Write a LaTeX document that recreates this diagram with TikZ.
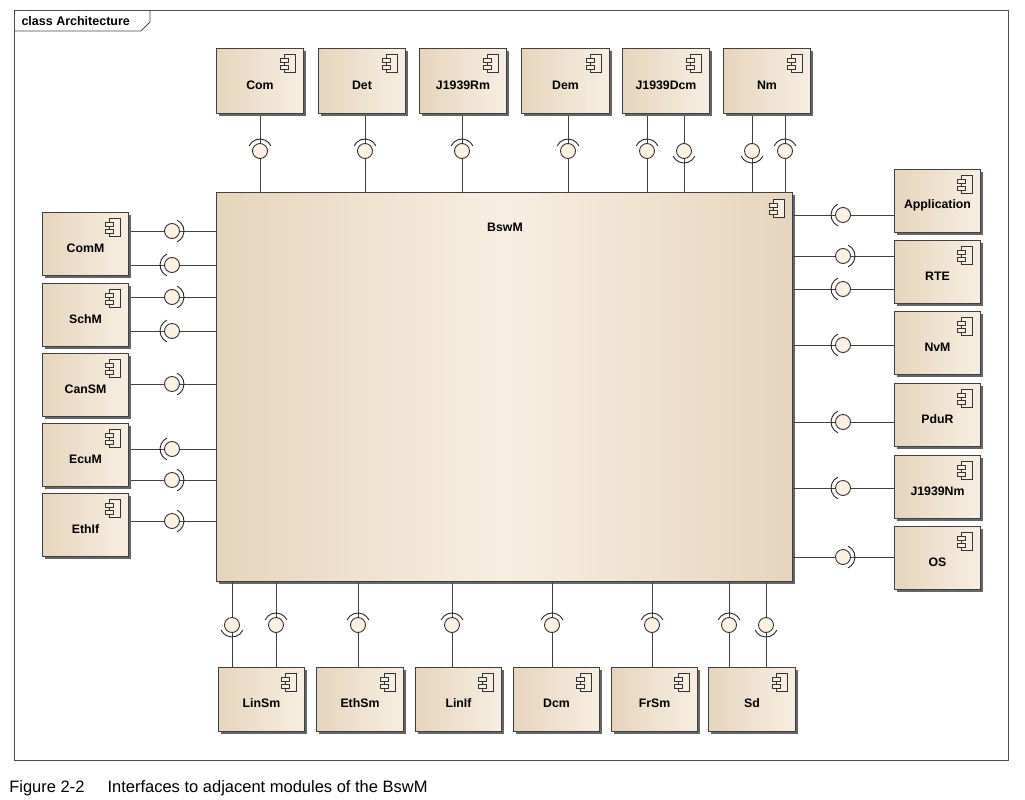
\documentclass[tikz,border=0pt]{standalone}
\usepackage{fontspec}
\setmainfont{Liberation Sans}
\usetikzlibrary{calc}
\definecolor{cdark}{HTML}{E6D5BD}
\definecolor{clight}{HTML}{F7EEE2}
\definecolor{ball}{HTML}{FBF1E2}
\definecolor{ln}{HTML}{404040}
\tikzset{
  comp/.style={draw=ln, line width=1pt, left color=cdark, right color=clight, anchor=north west, inner sep=0pt},
  shad/.style={fill=black!60},
  lbl/.style={font=\bfseries\fontsize{12.3}{14}\selectfont},
  conn/.style={draw=ln, line width=0.9pt},
  sock/.style={draw=black!85, line width=0.9pt},
  ballst/.style={draw=black!80, fill=ball, line width=0.9pt},
  icn/.style={black!80, line width=0.8pt, fill=clight},
}
\newcommand\icon[2]{%
  \draw[icn] (#1-5,#2-9) rectangle (#1+6,#2+9);
  \draw[icn] (#1-9,#2-5) rectangle (#1-1,#2-1);
  \draw[icn] (#1-9,#2+2) rectangle (#1-1,#2+6);}
\newcommand\comp[6]{% name x1 y1 x2 y2 label
  \fill[shad] (#2+3,#3+3) rectangle (#4+3,#5+3);
  \node[comp, minimum width=#4-#2, minimum height=#5-#3] (#1) at (#2,#3) {};
  \node[lbl] (#1-l) at ($(#1.center)+(0,4)$) {#6};
  \icon{#4-14}{#3+15}}
\newcommand\ifc[3]{% x y socket-angle
  \draw[sock] ($(#1,#2)+({#3-65}:12)$) arc[start angle={#3-65}, end angle={#3+65}, radius=12];
  \draw[ballst] (#1,#2) circle (7.5);}
\begin{document}
\begin{tikzpicture}[x=1pt,y=-1pt]
\useasboundingbox (0,0) rectangle (1025,800);
\fill[white] (0,0) rectangle (1025,800);
% frame
\draw[black!70, line width=0.8pt] (14,10) rectangle (1008,760);
\draw[black!70, line width=0.8pt] (14,31) -- (141,31) -- (150,22) -- (150,10);
\node[anchor=west, font=\bfseries\fontsize{12.5}{14}\selectfont] (title) at (18,21) {class Architecture};
% caption
\node[anchor=east, font=\fontsize{16.5}{18}\selectfont] (cap1) at (88,788) {Figure 2-2};
\node[anchor=west, font=\fontsize{16.5}{18}\selectfont] (cap2) at (104,788) {Interfaces to adjacent modules of the BswM};
% BswM
\fill[shad] (219,195) rectangle (795,584);
\node[draw=ln, line width=1pt, left color=cdark, right color=cdark, middle color=clight, anchor=north west, minimum width=576, minimum height=389, inner sep=0pt] (B) at (216,192) {};
\node[lbl] (Bl) at (505,227) {BswM};
\icon{778}{208}
% connectors (drawn first)
\foreach \x in {260,365,462,568,647,684,752,785}
  \draw[conn] (\x,113) -- (\x,192);
\foreach \x in {232,276,358,452,552,652,729,766}
  \draw[conn] (\x,581) -- (\x,667);
\foreach \y in {231,265,297,331,384,449,480,521}
  \draw[conn] (128,\y) -- (216,\y);
\foreach \y in {215,256,289,345,422,488,557}
  \draw[conn] (792,\y) -- (894,\y);
% top components
\comp{Com}{216}{48}{303}{113}{Com}
\comp{Det}{318}{48}{405}{113}{Det}
\comp{J1939Rm}{419}{48}{506}{113}{J1939Rm}
\comp{Dem}{521}{48}{609}{113}{Dem}
\comp{J1939Dcm}{622}{48}{709}{113}{J1939Dcm}
\comp{Nm}{723}{48}{810}{113}{Nm}
% bottom components
\comp{LinSm}{218}{667}{304}{731}{LinSm}
\comp{EthSm}{316}{667}{403}{731}{EthSm}
\comp{LinIf}{415}{667}{501}{731}{LinIf}
\comp{Dcm}{513}{667}{599}{731}{Dcm}
\comp{FrSm}{611}{667}{697}{731}{FrSm}
\comp{Sd}{708}{667}{795}{731}{Sd}
% left components
\comp{ComM}{42}{212}{128}{275}{ComM}
\comp{SchM}{42}{283}{128}{346}{SchM}
\comp{CanSM}{42}{353}{128}{416}{CanSM}
\comp{EcuM}{42}{423}{128}{486}{EcuM}
\comp{EthIf}{42}{493}{128}{556}{EthIf}
% right components
\comp{App}{894}{169}{980}{232}{Application}
\comp{RTE}{894}{240}{980}{303}{RTE}
\comp{NvM}{894}{311}{980}{374}{NvM}
\comp{PduR}{894}{383}{980}{446}{PduR}
\comp{J1939Nm}{894}{455}{980}{518}{J1939Nm}
\comp{OS}{894}{526}{980}{589}{OS}
% interfaces: screen up = 270, down = 90, left = 180, right = 0
\ifc{260}{151}{270}\ifc{365}{151}{270}\ifc{462}{151}{270}\ifc{568}{151}{270}
\ifc{647}{151}{270}\ifc{684}{151}{90}\ifc{752}{151}{90}\ifc{785}{151}{270}
\ifc{232}{625}{90}\ifc{276}{625}{270}\ifc{358}{625}{270}\ifc{452}{625}{270}
\ifc{552}{625}{270}\ifc{652}{625}{270}\ifc{729}{625}{270}\ifc{766}{625}{90}
\ifc{172}{231}{0}\ifc{172}{265}{180}\ifc{172}{297}{0}\ifc{172}{331}{180}
\ifc{172}{384}{0}\ifc{172}{449}{180}\ifc{172}{480}{0}\ifc{172}{521}{0}
\ifc{843}{215}{180}\ifc{843}{256}{0}\ifc{843}{289}{180}\ifc{843}{345}{180}
\ifc{843}{422}{180}\ifc{843}{488}{180}\ifc{843}{557}{0}
\end{tikzpicture}
\end{document}
